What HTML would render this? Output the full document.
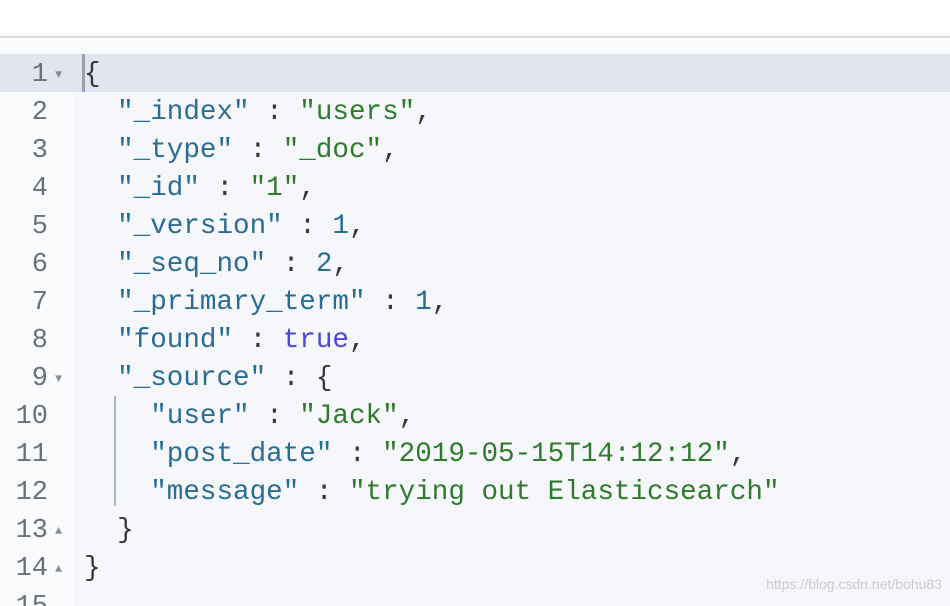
<!DOCTYPE html>
<html><head><meta charset="utf-8"><style>
html,body{margin:0;width:950px;height:606px;overflow:hidden;}
body{background:#fafbfd;position:relative;font-family:"Liberation Mono","DejaVu Sans Mono",monospace;}
.top{position:absolute;left:0;top:0;width:950px;height:36px;background:#fff;border-bottom:2px solid #d3dae6;}
.code{position:absolute;left:74px;top:54px;width:876px;height:552px;background:#f5f7fa;}
.act{position:absolute;left:0;top:54px;width:950px;height:38px;background:#e0e5ee;}
.cur{position:absolute;left:82px;top:54px;width:3px;height:38px;background:#98a2b3;}
.ln{position:absolute;left:0;width:48px;text-align:right;font-size:27px;line-height:38px;margin-top:2px;color:#69707d;}
.f{position:absolute;left:55px;font-size:12px;line-height:38px;margin-top:2px;color:#8a8f98;}
.l{position:absolute;left:84px;font-size:27.6px;line-height:38px;margin-top:2px;color:#343741;white-space:pre;}
.k{color:#2b6c93}.s{color:#2f7a2c}.n{color:#2b6c93}.b{color:#4c46e0}
.g{position:absolute;left:114px;width:2px;background:#b0b6c2;}
.wm{position:absolute;right:8px;top:576px;font-family:"Liberation Sans",sans-serif;font-size:14px;color:#c9ccd2;}
</style></head><body>
<div class="top"></div>
<div class="code"></div>
<div class="act"></div>
<div class="cur"></div>
<div class="g" style="top:396px;height:110px"></div>
<div class="ln" style="top:54px">1</div><div class="f" style="top:54px">▼</div>
<div class="ln" style="top:92px">2</div>
<div class="ln" style="top:130px">3</div>
<div class="ln" style="top:168px">4</div>
<div class="ln" style="top:206px">5</div>
<div class="ln" style="top:244px">6</div>
<div class="ln" style="top:282px">7</div>
<div class="ln" style="top:320px">8</div>
<div class="ln" style="top:358px">9</div><div class="f" style="top:358px">▼</div>
<div class="ln" style="top:396px">10</div>
<div class="ln" style="top:434px">11</div>
<div class="ln" style="top:472px">12</div>
<div class="ln" style="top:510px">13</div><div class="f" style="top:510px">▲</div>
<div class="ln" style="top:548px">14</div><div class="f" style="top:548px">▲</div>
<div class="ln" style="top:586px">15</div>
<div class="l" style="top:54px">{</div>
<div class="l" style="top:92px">  <span class="k">"_index"</span> : <span class="s">"users"</span>,</div>
<div class="l" style="top:130px">  <span class="k">"_type"</span> : <span class="s">"_doc"</span>,</div>
<div class="l" style="top:168px">  <span class="k">"_id"</span> : <span class="s">"1"</span>,</div>
<div class="l" style="top:206px">  <span class="k">"_version"</span> : <span class="n">1</span>,</div>
<div class="l" style="top:244px">  <span class="k">"_seq_no"</span> : <span class="n">2</span>,</div>
<div class="l" style="top:282px">  <span class="k">"_primary_term"</span> : <span class="n">1</span>,</div>
<div class="l" style="top:320px">  <span class="k">"found"</span> : <span class="b">true</span>,</div>
<div class="l" style="top:358px">  <span class="k">"_source"</span> : {</div>
<div class="l" style="top:396px">    <span class="k">"user"</span> : <span class="s">"Jack"</span>,</div>
<div class="l" style="top:434px">    <span class="k">"post_date"</span> : <span class="s">"2019-05-15T14:12:12"</span>,</div>
<div class="l" style="top:472px">    <span class="k">"message"</span> : <span class="s">"trying out Elasticsearch"</span></div>
<div class="l" style="top:510px">  }</div>
<div class="l" style="top:548px">}</div>
<div class="wm">https://blog.csdn.net/bohu83</div>
</body></html>
